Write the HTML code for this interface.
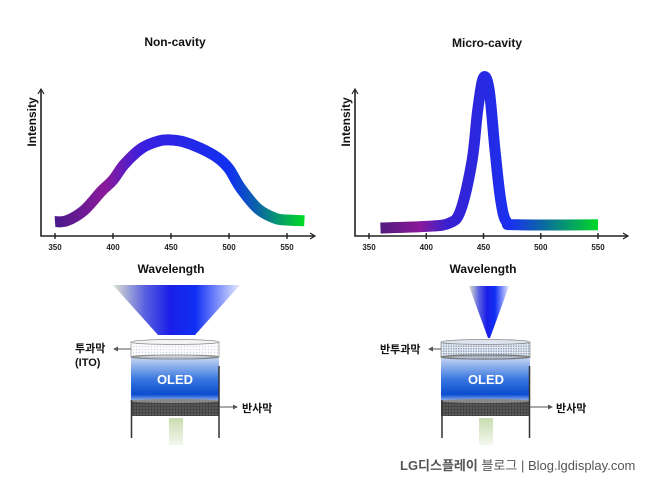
<!DOCTYPE html>
<html><head><meta charset="utf-8"><style>
html,body{margin:0;padding:0;background:#fff;}
svg{display:block;font-family:"Liberation Sans","Noto Sans CJK KR",sans-serif;}
</style></head><body>
<svg id="s" width="650" height="485" viewBox="0 0 650 485">
<defs>
<linearGradient id="gL" gradientUnits="userSpaceOnUse" x1="55" y1="0" x2="305" y2="0">
<stop offset="0" stop-color="#4a1a8a"/><stop offset="0.2" stop-color="#8a1a9a"/><stop offset="0.35" stop-color="#3a1ee0"/><stop offset="0.7" stop-color="#1030f0"/><stop offset="0.82" stop-color="#0a6aa0"/><stop offset="1" stop-color="#00dd22"/></linearGradient>
<linearGradient id="gR" gradientUnits="userSpaceOnUse" x1="375" y1="0" x2="600" y2="0">
<stop offset="0" stop-color="#4a1a7a"/><stop offset="0.2" stop-color="#8a1a9a"/><stop offset="0.32" stop-color="#3a20d0"/><stop offset="0.6" stop-color="#1a30f0"/><stop offset="0.75" stop-color="#0a6aa0"/><stop offset="1" stop-color="#00dd22"/></linearGradient>
<linearGradient id="cone" x1="0" y1="0" x2="1" y2="0">
<stop offset="0" stop-color="#dde4d0"/><stop offset="0.25" stop-color="#5a60e0"/><stop offset="0.45" stop-color="#1a1ee8"/><stop offset="0.65" stop-color="#1030f5"/><stop offset="1" stop-color="#e8ecff"/></linearGradient>
<linearGradient id="oled" x1="0" y1="0" x2="0" y2="1">
<stop offset="0" stop-color="#c8d8f4"/><stop offset="0.5" stop-color="#3a78e0"/><stop offset="0.85" stop-color="#0a4cd0"/><stop offset="1" stop-color="#9ab8ee"/></linearGradient>
<linearGradient id="beam" x1="0" y1="0" x2="0" y2="1">
<stop offset="0" stop-color="#c8dcb0"/><stop offset="1" stop-color="#f4f8ee"/></linearGradient>
<pattern id="dots" width="3" height="3" patternUnits="userSpaceOnUse"><rect width="3" height="3" fill="#fbfbfd"/><circle cx="1.5" cy="1.5" r="0.6" fill="#c8d0dc"/></pattern>
<pattern id="dots2" width="2.5" height="2.5" patternUnits="userSpaceOnUse"><rect width="3" height="3" fill="#e4eaf4"/><circle cx="1.2" cy="1.2" r="0.8" fill="#90a0b8"/></pattern>
<pattern id="mesh" width="3" height="3" patternUnits="userSpaceOnUse"><rect width="3" height="3" fill="#555"/><circle cx="1.5" cy="1.5" r="0.8" fill="#333"/></pattern>
</defs>
<g id="charts"></g>

<!-- left diagram -->
<g>
<polygon points="113,285 240,285 195,335 158,335" fill="url(#cone)"/>
<rect x="131" y="357" width="88" height="44" fill="url(#oled)"/>
<text x="175" y="384" text-anchor="middle" font-size="13" font-weight="bold" fill="#fff">OLED</text>
<rect x="131" y="342" width="88" height="15" fill="url(#dots)" stroke="#999" stroke-width="0.8"/>
<ellipse cx="175" cy="342" rx="44" ry="2.5" fill="#f4f4f4" stroke="#888" stroke-width="0.8"/>
<ellipse cx="175" cy="357" rx="44" ry="2" fill="none" stroke="#888" stroke-width="1"/>
<rect x="131" y="401" width="88" height="15" fill="url(#mesh)"/>
<ellipse cx="175" cy="401" rx="44" ry="2" fill="#888"/>
<rect x="169" y="418" width="14" height="27" fill="url(#beam)"/>
<line x1="131.5" y1="400" x2="131.5" y2="438" stroke="#333" stroke-width="1.5"/>
<line x1="219" y1="366" x2="219" y2="438" stroke="#333" stroke-width="1.5"/>
<line x1="131" y1="349" x2="117" y2="349" stroke="#555" stroke-width="1"/><polygon points="113,349 118,346.5 118,351.5" fill="#555"/>
<text x="75" y="352" font-size="11" font-weight="bold" fill="#111">투과막</text>
<text x="75" y="366" font-size="11" font-weight="bold" fill="#111">(ITO)</text>
<line x1="219" y1="407" x2="234" y2="407" stroke="#555" stroke-width="1"/><polygon points="238,407 233,404.5 233,409.5" fill="#555"/>
<text x="242" y="412" font-size="11" font-weight="bold" fill="#111">반사막</text>
</g>

<!-- right diagram -->
<g>
<polygon points="469,286 509,286 490,338 488,338" fill="url(#cone)"/>
<rect x="441" y="357" width="89" height="44" fill="url(#oled)"/>
<text x="486" y="384" text-anchor="middle" font-size="13" font-weight="bold" fill="#fff">OLED</text>
<rect x="441" y="342" width="89" height="15" fill="url(#dots2)" stroke="#999" stroke-width="0.8"/>
<ellipse cx="485.5" cy="342" rx="44.5" ry="2.5" fill="#dde4ee" stroke="#888" stroke-width="0.8"/>
<ellipse cx="485.5" cy="357" rx="44.5" ry="2" fill="none" stroke="#777" stroke-width="1.2"/>
<rect x="441" y="401" width="89" height="15" fill="url(#mesh)"/>
<ellipse cx="485.5" cy="401" rx="44.5" ry="2" fill="#888"/>
<rect x="479" y="418" width="14" height="27" fill="url(#beam)"/>
<line x1="442" y1="400" x2="442" y2="438" stroke="#333" stroke-width="1.5"/>
<line x1="529.5" y1="366" x2="529.5" y2="438" stroke="#333" stroke-width="1.5"/>
<line x1="441" y1="349" x2="432" y2="349" stroke="#555" stroke-width="1"/><polygon points="428,349 433,346.5 433,351.5" fill="#555"/>
<text x="380" y="353" font-size="11" font-weight="bold" fill="#111">반투과막</text>
<line x1="530" y1="407" x2="549" y2="407" stroke="#555" stroke-width="1"/><polygon points="553,407 548,404.5 548,409.5" fill="#555"/>
<text x="556" y="412" font-size="11" font-weight="bold" fill="#111">반사막</text>
</g>

<text x="400" y="470" font-size="13" fill="#555"><tspan font-weight="bold">LG디스플레이</tspan> 블로그 | Blog.lgdisplay.com</text>
</svg>
<script>
// Non-cavity spectrum
const leftWavelengths = [350,360,375,390,400,410,425,440,450,460,475,490,500,510,525,540,550,565];
const leftIntensity   = [9,9.5,16,28,35,45,55,59.5,60,59,55,49,42,30,17,11,10,9.5];
// Micro-cavity spectrum
const rightWavelengths = [360,400,420,430,440,445,450,455,460,465,470,480,550];
const rightIntensity   = [5,6,8,16,47,79,99,91,54,22.5,9,7,7];
const tickLabels = [350,400,450,500,550];

const NS = 'http://www.w3.org/2000/svg';
const root = document.getElementById('charts');
function mk(tag, attrs, parent){const e=document.createElementNS(NS,tag);for(const k in attrs)e.setAttribute(k,attrs[k]);(parent||root).appendChild(e);return e;}
function smooth(pts){let d='M'+pts[0][0]+','+pts[0][1];for(let i=0;i<pts.length-1;i++){const p0=pts[i-1]||pts[i],p1=pts[i],p2=pts[i+1],p3=pts[i+2]||p2;const c1x=p1[0]+(p2[0]-p0[0])/6,c1y=p1[1]+(p2[1]-p0[1])/6,c2x=p2[0]-(p3[0]-p1[0])/6,c2y=p2[1]-(p3[1]-p1[1])/6;d+=' C'+c1x+','+c1y+' '+c2x+','+c2y+' '+p2[0]+','+p2[1];}return d;}

function chart(cfg){
  const g=mk('g',{});
  
  
  const xs=w=>cfg.x0+(w-350)*(cfg.x1-cfg.x0)/200;
  const ys=v=>236-v*1.6;
  const ax=mk('path',{d:`M${cfg.ax},90 L${cfg.ax},236 L${cfg.axEnd},236`,fill:'none',stroke:'#222','stroke-width':1.6},g);
  
  
  mk('path',{d:`M${cfg.ax-3},94 L${cfg.ax},89 L${cfg.ax+3},94 M${cfg.axEnd-4},233 L${cfg.axEnd+1},236 L${cfg.axEnd-4},239`,fill:'none',stroke:'#222','stroke-width':1.2},g);
  tickLabels.forEach(t=>{
    const x=xs(t);
    mk('line',{x1:x,y1:233,x2:x,y2:239,stroke:'#222','stroke-width':1.4},g);
    const tx=mk('text',{x:x,y:250,'text-anchor':'middle','font-size':8,'font-weight':'bold',fill:'#222'},g);
    tx.textContent=t;
    
    
  });
  const pts=cfg.w.map((w,i)=>[xs(w),ys(cfg.v[i])]);
  const p=mk('path',{d:smooth(pts),fill:'none',stroke:cfg.grad,'stroke-width':11,'stroke-linejoin':'round'},g);
  
  
  const t=mk('text',{x:cfg.tx,y:cfg.ty,'text-anchor':'middle','font-size':12,'font-weight':'bold',fill:'#111'},g);
  t.textContent=cfg.title;
  
  
  const xl=mk('text',{x:cfg.tx-4,y:273,'text-anchor':'middle','font-size':12,'font-weight':'bold',fill:'#111'},g);
  xl.textContent='Wavelength';
  
  
  const yl=mk('text',{x:0,y:0,'text-anchor':'middle','font-size':12,'font-weight':'bold',fill:'#111',transform:`translate(${cfg.ax-5},122) rotate(-90)`},g);
  yl.textContent='Intensity';
  
  
}
chart({name:'non-cavity-chart',x0:55,x1:287,ax:41,axEnd:314,w:leftWavelengths,v:leftIntensity,grad:'url(#gL)',title:'Non-cavity',tx:175,ty:46});
chart({name:'micro-cavity-chart',x0:369,x1:598,ax:355,axEnd:627,w:rightWavelengths,v:rightIntensity,grad:'url(#gR)',title:'Micro-cavity',tx:487,ty:47});
</script>
</body></html>
